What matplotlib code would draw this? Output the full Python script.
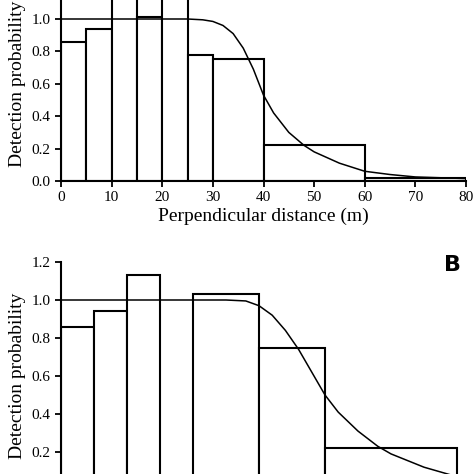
import matplotlib
matplotlib.use("Agg")
import matplotlib.pyplot as plt

plt.rcParams['font.family'] = ['Liberation Serif', 'DejaVu Serif']

# Panel A data
a_edges = [0, 5, 10, 15, 20, 25, 30, 40, 60, 80]
a_heights = [0.86, 0.94, 1.16, 1.01, 1.18, 0.78, 0.75, 0.22, 0.02]
a_curve_x = [0, 25, 28, 30, 32, 34, 36, 38, 40, 42, 45, 48, 50, 55, 60, 65, 70, 75, 80]
a_curve_y = [1, 1, 0.995, 0.985, 0.96, 0.91, 0.82, 0.69, 0.53, 0.42, 0.30, 0.22, 0.18, 0.11, 0.06, 0.04, 0.025, 0.02, 0.015]

# Panel B data
b_lefts = [0, 5, 10, 20, 30, 40]
b_widths = [5, 5, 5, 10, 10, 20]
b_heights = [0.86, 0.94, 1.13, 1.03, 0.75, 0.22]
b_curve_x = [0, 25, 28, 30, 32, 34, 36, 38, 40, 42, 45, 48, 50, 55, 60, 62]
b_curve_y = [1, 1, 0.995, 0.97, 0.92, 0.84, 0.74, 0.62, 0.5, 0.41, 0.31, 0.23, 0.19, 0.12, 0.07, 0.06]

yticks = [0.0, 0.2, 0.4, 0.6, 0.8, 1.0, 1.2]
ylabels = ['0.0', '0.2', '0.4', '0.6', '0.8', '1.0', '1.2']

fig = plt.figure(figsize=(4.74, 4.74), dpi=100)

def style(ax):
    for s in ['top', 'right']:
        ax.spines[s].set_visible(False)
    ax.spines['left'].set_linewidth(1.5)
    ax.spines['bottom'].set_linewidth(1.5)
    ax.tick_params(direction='out', width=1.3, length=4, labelsize=11)
    ax.set_yticks(yticks)
    ax.set_yticklabels(ylabels)
    ax.set_ylim(0, 1.2)
    ax.set_xlim(0, 80)

axA = fig.add_axes([61/474, (474-181)/474, 405/474, 1.2*162/474])
lefts = a_edges[:-1]
widths = [a_edges[i+1]-a_edges[i] for i in range(len(lefts))]
axA.bar(lefts, a_heights, width=widths, align='edge', facecolor='white', edgecolor='black', linewidth=1.5)
axA.plot(a_curve_x, a_curve_y, color='black', lw=1.1)
style(axA)
axA.set_xticks(range(0, 81, 10))
axA.set_xlabel('Perpendicular distance (m)', fontsize=14, labelpad=2)
axA.set_ylabel('Detection probability', fontsize=14)

axB = fig.add_axes([61/474, (474-490)/474, 80*6.6/474, 1.2*190/474])
axB.bar(b_lefts, b_heights, width=b_widths, align='edge', facecolor='white', edgecolor='black', linewidth=1.5)
axB.plot(b_curve_x, b_curve_y, color='black', lw=1.1)
style(axB)
axB.set_ylabel('Detection probability', fontsize=14)
fig.text(453/474, 1-265/474, 'B', family='DejaVu Sans', fontweight='bold', fontsize=16, ha='center', va='center')

fig.savefig('out.png', dpi=100)
